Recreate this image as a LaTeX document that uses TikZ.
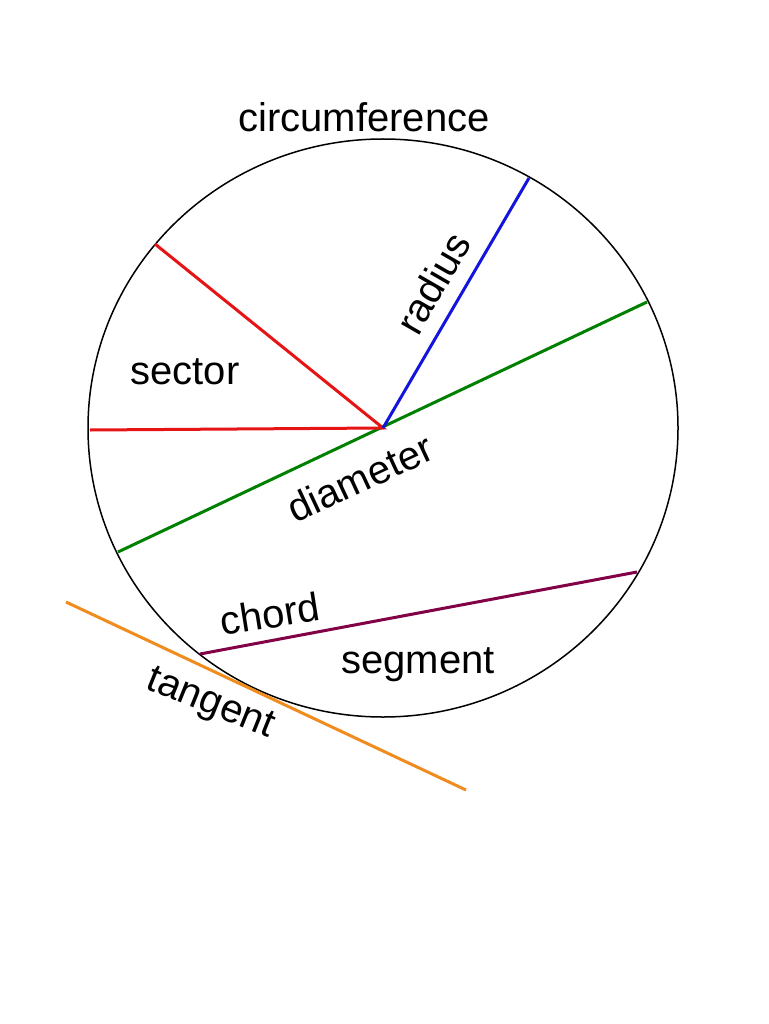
\documentclass[tikz,border=0pt]{standalone}
\usepackage{fontspec}
\setmainfont{Liberation Sans}
\begin{document}
\begin{tikzpicture}[x=1pt,y=-1pt,
  lab/.style={font=\fontsize{40}{42}\selectfont, inner sep=0pt},
  seg/.style={line width=3pt}]
\useasboundingbox (0,0) rectangle (768,1024);
\coordinate (O) at (383,428);
\draw[line width=1.5pt] (O) ellipse [x radius=295, y radius=289];
\coordinate (R) at (529,178);
\coordinate (D1) at (118,552);
\coordinate (D2) at (647,302);
\coordinate (S1) at (155,244);
\coordinate (S2) at (90,430);
\coordinate (C1) at (200,654);
\coordinate (C2) at (637,572);
\coordinate (T1) at (66,602);
\coordinate (T2) at (466,790);
\draw[seg, color={rgb,255:red,0;green,128;blue,0}] (D1) -- (D2);
\draw[seg, color={rgb,255:red,230;green,20;blue,20}] (S1) -- (O) -- (S2);
\draw[seg, color={rgb,255:red,20;green,20;blue,220}] (O) -- (R);
\draw[seg, color={rgb,255:red,130;green,0;blue,70}] (C1) -- (C2);
\draw[seg, color={rgb,255:red,240;green,140;blue,30}] (T1) -- (T2);
\node[lab] (lc) at (364,117) {circumference};
\node[lab, rotate=60] (lr) at (433,283) {radius};
\node[lab] (ls) at (185,372) {sector};
\node[lab, rotate=25] (ld) at (360,478) {diameter};
\node[lab, rotate=9] (lch) at (270,614) {chord};
\node[lab] (lsg) at (418,665) {segment};
\node[lab, rotate=-22] (lt) at (210,705) {tangent};
\end{tikzpicture}
\end{document}
